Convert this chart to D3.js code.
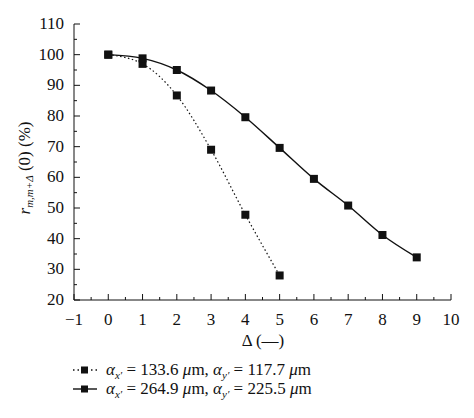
<!DOCTYPE html><html><head><script src="https://cdn.jsdelivr.net/npm/d3@7"></script>
<style>body{margin:0;background:#fff}text{font-family:"Liberation Serif","Times New Roman",serif;fill:#111}</style></head><body>
<svg id="c" width="474" height="418"></svg>
<script>
const xDotted=[0,1,2,3,4,5];
const yDotted=[100,97,86.7,69,47.8,28];
const xSolid=[0,1,2,3,4,5,6,7,8,9];
const ySolid=[100,98.8,95,88.3,79.6,69.6,59.5,50.8,41.2,33.9];
const xTicks=[-1,0,1,2,3,4,5,6,7,8,9,10];
const yTicks=[20,30,40,50,60,70,80,90,100,110];
const svg=d3.select("#c");
const x=d3.scaleLinear().domain([-1,10]).range([74,451]);
const y=d3.scaleLinear().domain([20,110]).range([300,24]);
const g=svg.append("g");
g.append("line").attr("x1",74).attr("x2",451).attr("y1",300).attr("y2",300).attr("stroke","#111");
g.append("line").attr("x1",74).attr("x2",74).attr("y1",24).attr("y2",300).attr("stroke","#111");
d3.range(-1,10.01,0.5).forEach(v=>{const maj=Number.isInteger(v);
 g.append("line").attr("x1",x(v)).attr("x2",x(v)).attr("y1",300).attr("y2",300-(maj?6:3)).attr("stroke","#111");});
d3.range(20,110.01,5).forEach(v=>{const maj=v%10===0;
 g.append("line").attr("x1",74).attr("x2",74+(maj?6:3)).attr("y1",y(v)).attr("y2",y(v)).attr("stroke","#111");});
xTicks.forEach(v=>g.append("text").attr("x",x(v)).attr("y",325).attr("text-anchor","middle").attr("font-size",17).text(v<0?"\u2212"+(-v):v));
yTicks.forEach(v=>g.append("text").attr("x",64).attr("y",y(v)+5).attr("text-anchor","end").attr("font-size",17).text(v));
g.append("text").attr("x",263).attr("y",346).attr("text-anchor","middle").attr("font-size",17).text("Δ (—)");
const yl=g.append("text").attr("transform","translate(30,168) rotate(-90)").attr("text-anchor","middle").attr("font-size",17);
yl.append("tspan").attr("font-style","italic").text("r");
yl.append("tspan").attr("font-style","italic").attr("font-size",11).attr("dy",3).text("m,m+Δ");
yl.append("tspan").attr("dy",-3).text(" (0) (%)");
const line=d3.line().curve(d3.curveMonotoneX);
function series(xs,ys,dash){
 svg.append("path").attr("d",line(xs.map((v,i)=>[x(v),y(ys[i])]))).attr("fill","none").attr("stroke","#111").attr("stroke-width",dash?1.2:1.4).attr("stroke-dasharray",dash?"1.5,2.5":null);
 xs.forEach((v,i)=>svg.append("rect").attr("x",x(v)-4).attr("y",y(ys[i])-4).attr("width",8).attr("height",8).attr("fill","#111"));
}
series(xDotted,yDotted,true);
series(xSolid,ySolid,false);
function legend(yy,dash,a,b){
 svg.append("line").attr("x1",73).attr("x2",97).attr("y1",yy).attr("y2",yy).attr("stroke","#111").attr("stroke-width",1.4).attr("stroke-dasharray",dash?"1.5,3":null);
 svg.append("rect").attr("x",81).attr("y",yy-3.5).attr("width",7).attr("height",7).attr("fill","#111");
 const t=svg.append("text").attr("x",106).attr("y",yy+5).attr("font-size",17);
 t.append("tspan").attr("font-style","italic").text("α");
 t.append("tspan").attr("font-style","italic").attr("font-size",11).attr("dy",4).text("x′");
 t.append("tspan").attr("dy",-4).text(" = "+a+" ");t.append("tspan").attr("font-style","italic").text("μ");t.append("tspan").text("m, ");
 t.append("tspan").attr("font-style","italic").text("α");
 t.append("tspan").attr("font-style","italic").attr("font-size",11).attr("dy",4).text("y′");
 t.append("tspan").attr("dy",-4).text(" = "+b+" ");t.append("tspan").attr("font-style","italic").text("μ");t.append("tspan").text("m");
}
legend(370,true,"133.6","117.7");
legend(389,false,"264.9","225.5");
</script></body></html>
